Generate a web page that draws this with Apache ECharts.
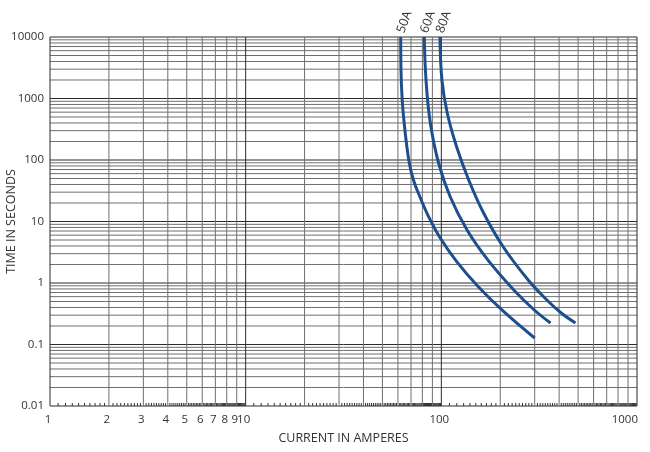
<!DOCTYPE html>
<html><head><meta charset="utf-8">
<script src="https://cdn.jsdelivr.net/npm/echarts@6/dist/echarts.min.js"></script>
<style>html,body{margin:0;padding:0;background:#fff}#c{width:650px;height:452px}</style>
</head><body><div id="c"></div>
<script>
// ---- data ----
const seriesNames = ['50A', '60A', '80A'];
const current50 = [62.0, 62.2, 63.1, 64.5, 66.3, 68.6, 72.0, 77.8, 86.3, 98.0, 120.1, 154.9, 209.3, 299.7];
const time50    = [10000, 2900, 945, 415, 189, 89.4, 47.3, 25.0, 11.8, 5.60, 2.20, 0.861, 0.338, 0.1275];
const current60 = [81.8, 83.5, 87.7, 96.8, 111.1, 135.4, 172.8, 234.6, 298.6, 361.4];
const time60    = [10000, 2000, 415, 89.4, 25.0, 7.27, 2.37, 0.770, 0.364, 0.2237];
const current80 = [98.4, 100.7, 107.2, 119.8, 138.0, 164.4, 207.4, 277.9, 346.4, 409.9, 484.9];
const time80    = [10000, 2000, 581, 162.7, 47.3, 13.75, 3.85, 1.119, 0.529, 0.325, 0.2237];
const xTickLabels = [1, 2, 3, 4, 5, 6, 7, 8, 9, 10, 100, 1000];
const yTickLabels = [0.01, 0.1, 1, 10, 100, 1000, 10000];

const X_MIN = 1, X_MAX = 1000, Y_MIN = 0.01, Y_MAX = 10000;
const FONT = '"Open Sans", "Noto Sans", sans-serif';
const TXT = '#333';

// grid line positions on log paper (1..9 x each decade)
const xGrid = [];
for (let e = 0; e < 3; e++) for (let i = 1; i < 10; i++) xGrid.push(+(i * Math.pow(10, e)).toPrecision(4));
xGrid.push(1000);
const yGrid = [];
for (let e = -2; e < 4; e++) for (let i = 1; i < 10; i++) yGrid.push(+(i * Math.pow(10, e)).toPrecision(4));
yGrid.push(10000);
const xMinor = [];
for (let e = 0; e < 3; e++) for (let i = 1; i < 10; i++) for (let j = 1; j < 10; j++)
  xMinor.push(+((i + j / 10) * Math.pow(10, e)).toPrecision(5));

function isDecade(v) { const l = Math.log10(v); return Math.abs(l - Math.round(l)) < 1e-9; }

function vLine(params, api) {
  const v = api.value(0);
  const a = api.coord([v, Y_MIN]), b = api.coord([v, Y_MAX]);
  return { type: 'line', silent: true,
    shape: { x1: a[0], y1: a[1], x2: b[0], y2: b[1] },
    style: { stroke: isDecade(v) ? '#2a2a2a' : '#6f6f6f', lineWidth: 1 } };
}
function hLine(params, api) {
  const v = api.value(1);
  const a = api.coord([X_MIN, v]), b = api.coord([X_MAX, v]);
  return { type: 'line', silent: true,
    shape: { x1: a[0], y1: a[1], x2: b[0], y2: b[1] },
    style: { stroke: isDecade(v) ? '#2a2a2a' : '#6f6f6f', lineWidth: 1 } };
}
function minorTick(params, api) {
  const v = api.value(0);
  const a = api.coord([v, Y_MIN]);
  return { type: 'line', silent: true,
    shape: { x1: a[0], y1: a[1], x2: a[0], y2: a[1] - 3 },
    style: { stroke: '#333', lineWidth: 1 } };
}
function xLabel(params, api) {
  const v = api.value(0);
  const a = api.coord([v, Y_MIN]);
  const last = v === X_MAX;
  return { type: 'text', silent: true,
    style: { text: String(v), x: last ? a[0] + 1 : a[0] - 2, y: a[1] + 14,
      align: last ? 'right' : 'center', verticalAlign: 'middle',
      fill: TXT, fontSize: 11.5, fontFamily: FONT } };
}

function mkLine(name, xs, ys) {
  return {
    type: 'line', name: name, z: 5,
    smooth: 0.4,
    symbol: 'circle', symbolSize: 1, showSymbol: true,
    itemStyle: { color: 'rgba(0,0,0,0)' },
    lineStyle: { color: '#1c4f8d', width: 3 },
    data: xs.map((x, i) => i === 0 ? {
      value: [x, ys[i]],
      label: { show: true, formatter: name, position: 'top', distance: 4,
        rotate: 70, align: 'left', verticalAlign: 'middle',
        color: TXT, fontSize: 12.5, fontFamily: FONT }
    } : [x, ys[i]])
  };
}

const chart = echarts.init(document.getElementById('c'), null, { renderer: 'canvas' });
chart.setOption({
  animation: false,
  backgroundColor: '#fff',
  grid: { left: 50, right: 13, top: 37, bottom: 46, containLabel: false, outerBoundsMode: 'none' },
  xAxis: {
    type: 'log', logBase: 10, min: X_MIN, max: X_MAX,
    name: 'CURRENT IN AMPERES', nameLocation: 'middle', nameGap: 26, nameMoveOverlap: false,
    nameTextStyle: { color: TXT, fontSize: 12.5, fontFamily: FONT },
    axisLine: { show: false }, axisTick: { show: false },
    axisLabel: { show: false }, splitLine: { show: false }
  },
  yAxis: {
    type: 'log', logBase: 10, min: Y_MIN, max: Y_MAX,
    name: 'TIME IN SECONDS', nameLocation: 'middle', nameGap: 32, nameRotate: 90, nameMoveOverlap: false,
    nameTextStyle: { color: TXT, fontSize: 12.5, fontFamily: FONT },
    axisLine: { show: false }, axisTick: { show: false },
    axisLabel: { color: TXT, fontSize: 11.5, fontFamily: FONT, margin: 6,
      formatter: v => { const r = yTickLabels.find(t => Math.abs(t - v) / t < 1e-6); return r !== undefined ? String(r) : ''; } },
    splitLine: { show: false }
  },
  series: [
    { type: 'custom', z: 1, silent: true, renderItem: hLine, encode: { x: 0, y: 1 }, data: yGrid.map(v => [X_MIN, v]) },
    { type: 'custom', z: 2, silent: true, renderItem: vLine, encode: { x: 0, y: 1 }, data: xGrid.map(v => [v, Y_MIN]) },
    { type: 'custom', z: 2, silent: true, renderItem: minorTick, encode: { x: 0, y: 1 }, data: xMinor.map(v => [v, Y_MIN]) },
    { type: 'custom', z: 2, silent: true, renderItem: xLabel, encode: { x: 0, y: 1 }, data: xTickLabels.map(v => [v, Y_MIN]) },
    mkLine(seriesNames[0], current50, time50),
    mkLine(seriesNames[1], current60, time60),
    mkLine(seriesNames[2], current80, time80)
  ]
});
</script></body></html>
